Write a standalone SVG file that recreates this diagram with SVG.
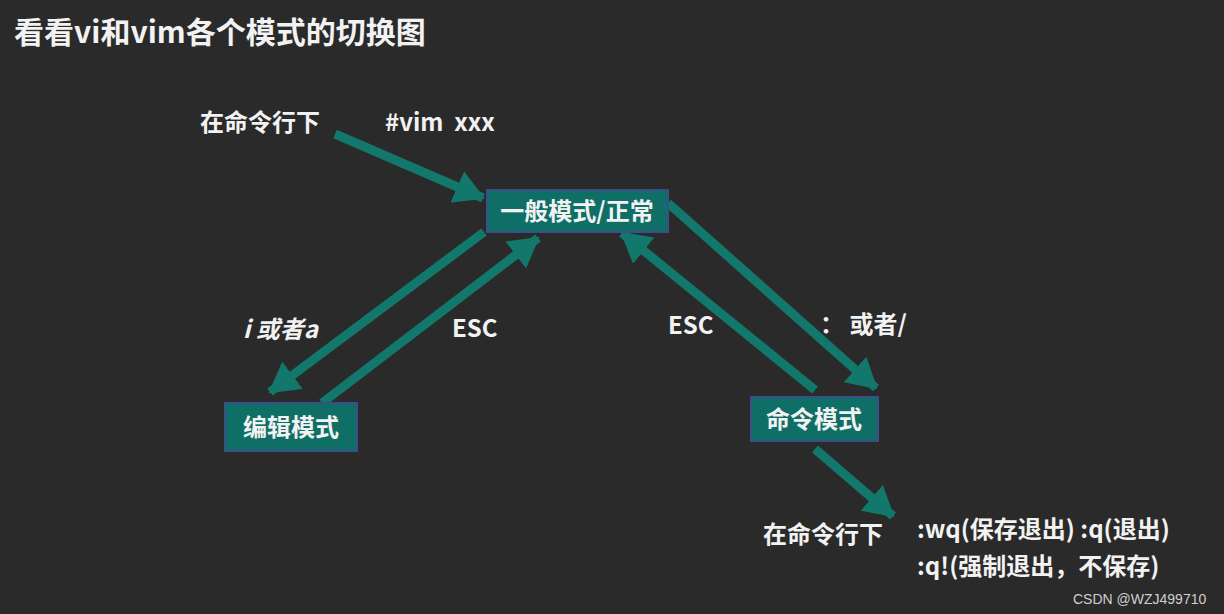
<svg xmlns="http://www.w3.org/2000/svg" width="1224" height="614" viewBox="0 0 1224 614">
<style>
.t{font-family:"Noto Sans CJK SC","Noto Sans",sans-serif;font-weight:bold;fill:#f2f2f2;font-size:24px}
.box{fill:#0f6e66;stroke:#3a4f8a;stroke-width:2}
.c{stroke:#12786c;stroke-width:9;fill:none;marker-end:url(#ah)}
</style>
<defs>
<marker id="ah" markerUnits="userSpaceOnUse" markerWidth="32" markerHeight="34" refX="28" refY="17" orient="auto">
<path d="M0,0 L30,17 L0,34 Z" fill="#12786c"/>
</marker>
</defs>
<rect width="1224" height="614" fill="#2a2a2a"/>
<text x="14" y="43" class="t" style="font-size:30px">看看vi和vim各个模式的切换图</text>
<g id="connectors">
<line class="c" x1="335" y1="134" x2="483" y2="198"/>
<line class="c" x1="484" y1="232" x2="270" y2="392"/>
<line class="c" x1="322" y1="403" x2="538" y2="238"/>
<line class="c" x1="815" y1="390" x2="622" y2="233"/>
<line class="c" x1="668" y1="203" x2="876" y2="388"/>
<line class="c" x1="815" y1="449" x2="893" y2="516"/>
</g>
<g id="normal"><rect class="box" x="487" y="190" width="181" height="42"/><text class="t" x="577" y="220" text-anchor="middle">一般模式/正常</text></g>
<g id="edit"><rect class="box" x="225" y="403" width="132" height="48"/><text class="t" x="291" y="436" text-anchor="middle">编辑模式</text></g>
<g id="command"><rect class="box" x="751" y="397" width="127" height="44"/><text class="t" x="814" y="428" text-anchor="middle">命令模式</text></g>
<text class="t" x="200" y="131">在命令行下</text>
<text class="t" x="385" y="131" xml:space="preserve">#vim  xxx</text>
<text class="t" x="243" y="338" font-style="italic">i 或者a</text>
<text class="t" x="452" y="337">ESC</text>
<text class="t" x="668" y="334">ESC</text>
<text class="t" x="820" y="333">： 或者/</text>
<text class="t" x="763" y="543">在命令行下</text>
<text class="t" x="917" y="538">:wq(保存退出) :q(退出)</text>
<text class="t" x="917" y="575">:q!(强制退出，不保存)</text>
<text x="1073" y="604" style="font-family:'Liberation Sans',sans-serif;font-size:14px;fill:#cfcfcf">CSDN @WZJ499710</text>
</svg>
